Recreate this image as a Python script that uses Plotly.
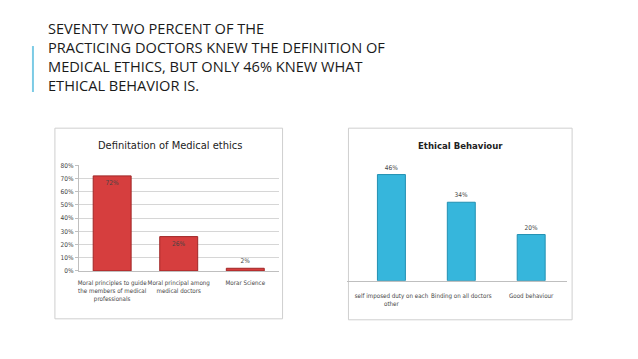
import plotly.graph_objects as go

W, H = 638, 359

heading_lines = [
    "SEVENTY TWO PERCENT OF THE",
    "PRACTICING DOCTORS KNEW THE DEFINITION OF",
    "MEDICAL ETHICS, BUT ONLY 46% KNEW WHAT",
    "ETHICAL BEHAVIOR IS.",
]

def_title = "Definitation of Medical ethics"
def_categories = [
    "Moral principles to guide<br>the members of medical<br>professionals",
    "Moral principal among<br>medical doctors",
    "Morar Science",
]
def_values = [0.72, 0.26, 0.02]
def_text = ["72%", "26%", "2%"]
def_ticks = [0, 0.1, 0.2, 0.3, 0.4, 0.5, 0.6, 0.7, 0.8]
def_ticklabels = ["0%", "10%", "20%", "30%", "40%", "50%", "60%", "70%", "80%"]

beh_title = "Ethical Behaviour"
beh_categories = [
    "self imposed duty on each<br>other",
    "Binding on all doctors",
    "Good behaviour",
]
beh_values = [0.46, 0.34, 0.20]
beh_text = ["46%", "34%", "20%"]

NARROW = "DejaVu Sans Condensed, Roboto, sans-serif"
HEAD = "Open Sans, sans-serif"

def px(x):
    return x / W

def py(y):
    return 1 - y / H

fig = go.Figure()

fig.add_trace(go.Bar(
    x=def_categories, y=def_values, text=def_text,
    textposition=["inside", "inside", "outside"],
    insidetextanchor="end",
    textfont=dict(family=NARROW, size=6.5, color="#444"),
    marker=dict(color="#d63e3e", line=dict(color="#a02626", width=1)),
    width=0.57, cliponaxis=False,
    xaxis="x", yaxis="y", hoverinfo="skip",
))

fig.add_trace(go.Bar(
    x=beh_categories, y=beh_values, text=beh_text,
    textposition="outside",
    textfont=dict(family=NARROW, size=6.5, color="#444"),
    marker=dict(color="#36b6dc", line=dict(color="#2290b2", width=1)),
    width=0.4, cliponaxis=False,
    xaxis="x2", yaxis="y2", hoverinfo="skip",
))

shapes = [
    dict(type="rect", xref="paper", yref="paper",
         x0=px(54), x1=px(282), y0=py(322), y1=py(127),
         line=dict(color="#cfcfcf", width=1), fillcolor="rgba(0,0,0,0)", layer="below"),
    dict(type="rect", xref="paper", yref="paper",
         x0=px(348), x1=px(572), y0=py(323), y1=py(127),
         line=dict(color="#cfcfcf", width=1), fillcolor="rgba(0,0,0,0)", layer="below"),
    dict(type="line", xref="paper", yref="paper",
         x0=px(32), x1=px(32), y0=py(90), y1=py(43),
         line=dict(color="#7ccbe5", width=2)),
]

annotations = [dict(
    text="<br>".join(heading_lines), xref="paper", yref="paper",
    x=px(46), y=py(54), xanchor="left", yanchor="middle", align="left",
    showarrow=False, borderpad=0,
    font=dict(family=HEAD, size=14.6, color="#1a1a1a"),
)]
annotations.append(dict(
    text=def_title, xref="paper", yref="paper", x=px(169), y=py(145),
    xanchor="center", yanchor="middle", showarrow=False,
    font=dict(family=NARROW, size=11, color="#222"),
))
annotations.append(dict(
    text="<b>" + beh_title + "</b>", xref="paper", yref="paper", x=px(460), y=py(145),
    xanchor="center", yanchor="middle", showarrow=False,
    font=dict(family=NARROW, size=9.5, color="#222"),
))

fig.update_layout(
    width=W, height=H,
    margin=dict(l=0, r=0, t=0, b=0),
    paper_bgcolor="white", plot_bgcolor="rgba(0,0,0,0)",
    showlegend=False,
    shapes=shapes, annotations=annotations,
    xaxis=dict(domain=[px(78), px(278)], range=[-0.5, 2.5],
               showline=True, linecolor="#bfbfbf", linewidth=1,
               showgrid=False, ticks="", fixedrange=True, tickangle=0,
               ticklabelstandoff=6,
               tickfont=dict(family=NARROW, size=6.2, color="#444")),
    yaxis=dict(domain=[py(273), py(165)], range=[0, 0.8],
               tickvals=def_ticks, ticktext=def_ticklabels,
               showline=True, linecolor="#bfbfbf", linewidth=1,
               showgrid=True, gridcolor="#d6d6d6", gridwidth=1,
               ticks="outside", ticklen=3, tickcolor="#bfbfbf",
               zeroline=False, fixedrange=True,
               tickfont=dict(family=NARROW, size=6.5, color="#444")),
    xaxis2=dict(domain=[px(347), px(567)], range=[-0.629, 2.514],
                anchor="y2",
                showline=True, linecolor="#bfbfbf", linewidth=1,
                showgrid=False, ticks="", fixedrange=True, tickangle=0,
                ticklabelstandoff=9,
                tickfont=dict(family=NARROW, size=6.2, color="#444")),
    yaxis2=dict(domain=[py(283), py(153.2)], range=[0, 0.55],
                anchor="x2", visible=False, fixedrange=True),
)

fig.write_html("out.html", config={"displayModeBar": False},
               post_script="document.body.style.margin='0';")
